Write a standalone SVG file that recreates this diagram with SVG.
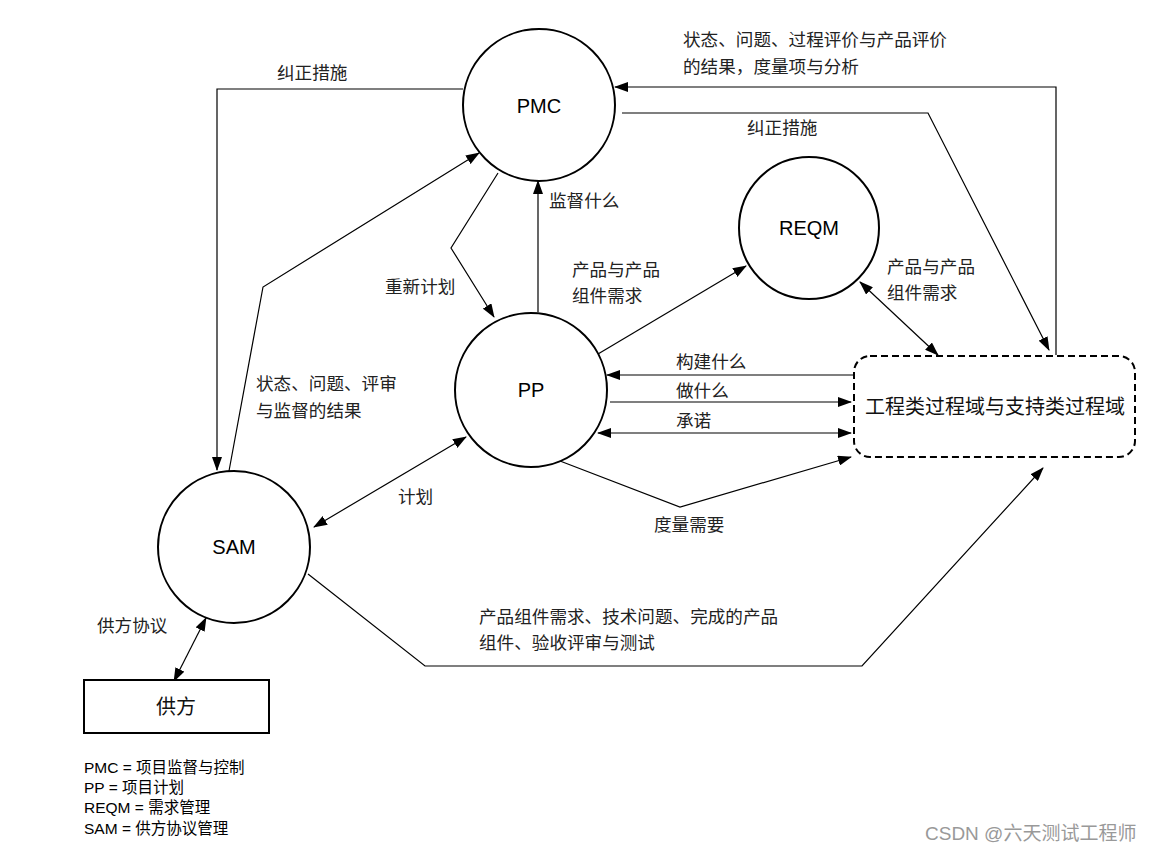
<svg xmlns="http://www.w3.org/2000/svg" width="1152" height="853" viewBox="0 0 1152 853">
<style>
.node{fill:#fff;stroke:#000;stroke-width:2}
.c{fill:none;stroke:#000;stroke-width:1.2}
.nl{font-family:"Liberation Sans",Arial,sans-serif;font-size:20px;text-anchor:middle;fill:#000}
.lb{font-family:"Noto Sans CJK SC","Noto Sans",sans-serif;font-size:17.6px;fill:#222}
.lg{font-family:"Liberation Sans","Noto Sans CJK SC",sans-serif;font-size:15.5px;fill:#000}
</style>
<defs>
<marker id="ae" markerUnits="userSpaceOnUse" markerWidth="14" markerHeight="10" refX="13" refY="5" orient="auto"><path d="M0,0 L14,5 L0,10 Z" fill="#000"/></marker>
<marker id="as" markerUnits="userSpaceOnUse" markerWidth="14" markerHeight="10" refX="1" refY="5" orient="auto"><path d="M14,0 L0,5 L14,10 Z" fill="#000"/></marker>
</defs>
<rect width="1152" height="853" fill="#fff"/>
<g id="connectors">
<polyline class="c" points="463,89 217,89 217,470" marker-end="url(#ae)"/>
<polyline class="c" points="229,471 263,287 479,153" marker-end="url(#ae)"/>
<polyline class="c" points="498,173 451,248 494,317" marker-end="url(#ae)"/>
<line class="c" x1="538" y1="312" x2="538" y2="181" marker-end="url(#ae)"/>
<line class="c" x1="598" y1="354" x2="746" y2="266" marker-end="url(#ae)"/>
<line class="c" x1="860" y1="282" x2="938" y2="355" marker-start="url(#as)" marker-end="url(#ae)"/>
<polyline class="c" points="622,113 928,113 1049,350" marker-end="url(#ae)"/>
<polyline class="c" points="1056,355 1056,87 615,87" marker-end="url(#ae)"/>
<line class="c" x1="853" y1="375" x2="607" y2="375" marker-end="url(#ae)"/>
<line class="c" x1="610" y1="402" x2="851" y2="402" marker-end="url(#ae)"/>
<line class="c" x1="598" y1="433" x2="851" y2="433" marker-start="url(#as)" marker-end="url(#ae)"/>
<polyline class="c" points="560,461 680,507 851,457" marker-end="url(#ae)"/>
<line class="c" x1="314" y1="527" x2="466" y2="437" marker-start="url(#as)" marker-end="url(#ae)"/>
<polyline class="c" points="308,574 425,666 862,666 1043,468" marker-end="url(#ae)"/>
<line class="c" x1="206" y1="618" x2="174" y2="681" marker-start="url(#as)" marker-end="url(#ae)"/>
</g>
<g id="PMC"><circle class="node" cx="539" cy="105" r="76"/><text class="nl" x="539" y="113">PMC</text></g>
<g id="REQM"><ellipse class="node" cx="809" cy="228" rx="70" ry="71"/><text class="nl" x="809" y="235">REQM</text></g>
<g id="PP"><ellipse class="node" cx="531" cy="390" rx="76" ry="77"/><text class="nl" x="531" y="397">PP</text></g>
<g id="SAM"><circle class="node" cx="234" cy="547" r="76"/><text class="nl" x="234" y="554">SAM</text></g>
<g id="domains"><rect x="854" y="356" width="281" height="101" rx="16" ry="16" fill="#fff" stroke="#000" stroke-width="2" stroke-dasharray="7,4"/><text x="995" y="414" text-anchor="middle" style="font-family:'Noto Sans CJK SC',sans-serif;font-size:20px;fill:#111">工程类过程域与支持类过程域</text></g>
<g id="supplier"><rect x="84" y="680" width="185" height="53" fill="#fff" stroke="#000" stroke-width="2"/><text x="176" y="714" text-anchor="middle" style="font-family:'Noto Sans CJK SC',sans-serif;font-size:20px;fill:#111">供方</text></g>
<g id="labels">
<text class="lb" x="277" y="79">纠正措施</text>
<text class="lb" x="683" y="46">状态、问题、过程评价与产品评价</text>
<text class="lb" x="683" y="73">的结果，度量项与分析</text>
<text class="lb" x="747" y="134">纠正措施</text>
<text class="lb" x="549" y="207">监督什么</text>
<text class="lb" x="385" y="293">重新计划</text>
<text class="lb" x="572" y="276">产品与产品</text>
<text class="lb" x="572" y="302">组件需求</text>
<text class="lb" x="887" y="273">产品与产品</text>
<text class="lb" x="887" y="299">组件需求</text>
<text class="lb" x="676" y="368">构建什么</text>
<text class="lb" x="676" y="397">做什么</text>
<text class="lb" x="676" y="427">承诺</text>
<text class="lb" x="654" y="531">度量需要</text>
<text class="lb" x="256" y="390">状态、问题、评审</text>
<text class="lb" x="256" y="417">与监督的结果</text>
<text class="lb" x="398" y="503">计划</text>
<text class="lb" x="479" y="623">产品组件需求、技术问题、完成的产品</text>
<text class="lb" x="479" y="649">组件、验收评审与测试</text>
<text class="lb" x="97" y="632">供方协议</text>
</g>
<g id="legend">
<text class="lg" x="84" y="773">PMC = 项目监督与控制</text>
<text class="lg" x="84" y="793">PP = 项目计划</text>
<text class="lg" x="84" y="813">REQM = 需求管理</text>
<text class="lg" x="84" y="834">SAM = 供方协议管理</text>
</g>
<text x="925" y="840" style="font-family:'Liberation Sans','Noto Sans CJK SC',sans-serif;font-size:19px;fill:#999">CSDN @六天测试工程师</text>
</svg>
